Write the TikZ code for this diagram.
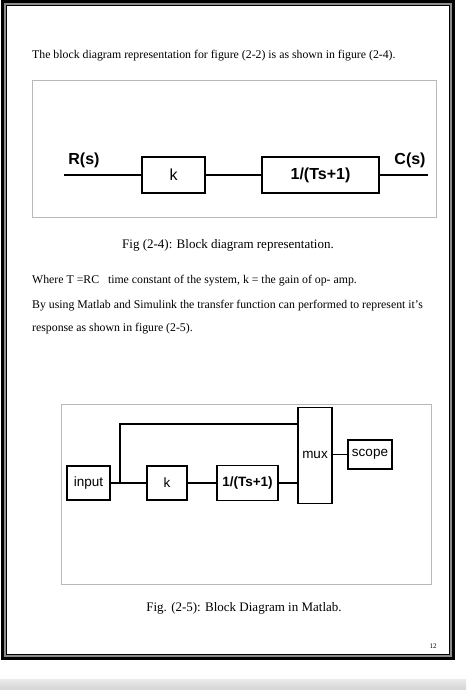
\documentclass[tikz,border=0pt]{standalone}
\usepackage{fontspec}
\setmainfont{Liberation Serif}
\setsansfont{Liberation Sans}
\begin{document}
\begin{tikzpicture}[x=1pt,y=-1pt,
  body/.style={font=\fontsize{11.8}{13}\selectfont\rmfamily, inner sep=0pt},
  captext/.style={font=\fontsize{13}{15}\selectfont\rmfamily, inner sep=0pt},
  blk/.style={draw, line width=1.5pt, minimum height=36pt, inner sep=0pt, font=\fontsize{16}{18}\selectfont\sffamily},
  sblk/.style={draw, line width=1.6pt, inner sep=0pt, font=\fontsize{13.5}{15}\selectfont\sffamily},
  wire/.style={line width=1.6pt},
  sig/.style={font=\fontsize{16}{18}\selectfont\sffamily\bfseries, inner sep=0pt},
  figbox/.style={draw=black!28, line width=1pt}]
\useasboundingbox (0,0) rectangle (466,700);
\fill[white] (0,0) rectangle (466,700);
% page frame
\draw[line width=2.2pt, black] (2.5,1.5) rectangle (453.5,658.5);
\draw[line width=2pt, black!45] (4.6,3.6) rectangle (451.4,656.4);
\draw[line width=1.1pt, black] (6.2,5.2) rectangle (449.8,654.8);
% bottom grey bar
\shade[top color=black!8, bottom color=black!16] (0,679) rectangle (466,689);
% text
\node[body, anchor=base west] (t1) at (32,59) {The block diagram representation for figure (2-2) is as shown in figure (2-4).};
\node[captext, anchor=base] (c1) at (228,249) {Fig (2-4): Block diagram representation.};
\node[body, anchor=base west] (t2) at (32,283) {Where T =RC~~ time constant of the system, k = the gain of op- amp.};
\node[body, anchor=base west] (t3) at (32,308) {By using Matlab and Simulink the transfer function can performed to represent it's};
\node[body, anchor=base west] (t4) at (32,331.5) {response as shown in figure (2-5).};
\node[captext, anchor=base] (c2) at (244,611.5) {Fig. (2-5): Block Diagram in Matlab.};
\node[font=\fontsize{7}{8}\selectfont\rmfamily, inner sep=0pt] (pg) at (433,646) {12};
% figure 2-4
\draw[figbox] (32,81) rectangle (436,218);
\node[blk, minimum width=63pt] (k1) at (173.5,175) {k};
\node[blk, minimum width=117pt, font=\fontsize{16}{18}\selectfont\sffamily\bfseries] (g1) at (320.5,175) {1/(Ts+1)};
\node[sig] (R) at (84,160) {R(s)};
\node[sig] (C) at (410,160) {C(s)};
\coordinate (rin) at (64,175);
\coordinate (cout) at (428,175);
\draw[wire] (rin) -- (k1.west);
\draw[wire] (k1.east) -- (g1.west);
\draw[wire] (g1.east) -- (cout);
% figure 2-5
\draw[figbox] (61,404) rectangle (431,584);
\node[sblk, minimum width=43pt, minimum height=34pt] (in) at (88.5,483) {input};
\node[sblk, minimum width=40pt, minimum height=34pt] (k2) at (167,483) {k};
\node[sblk, minimum width=61pt, minimum height=35pt, font=\fontsize{13.5}{15}\selectfont\sffamily\bfseries] (g2) at (247.5,483) {1/(Ts+1)};
\node[sblk, minimum width=34pt, minimum height=96pt, anchor=north] (mux) at (315,406.5) {};
\node[font=\fontsize{13.5}{15}\selectfont\sffamily, inner sep=0pt] (muxl) at (315,455) {mux};
\node[sblk, minimum width=44pt, minimum height=29pt] (sc) at (370,454.5) {scope};
\coordinate (br) at (120,483);
\coordinate (tp) at (120,424);
\draw[wire] (in.east) -- (k2.west);
\draw[wire] (k2.east) -- (g2.west);
\draw[wire] (g2.east) -- (mux.west |- g2.east);
\draw[wire] (br) -- (tp) -- (mux.west |- tp);
\draw[wire] (mux.east |- sc.west) -- (sc.west);
\end{tikzpicture}
\end{document}
